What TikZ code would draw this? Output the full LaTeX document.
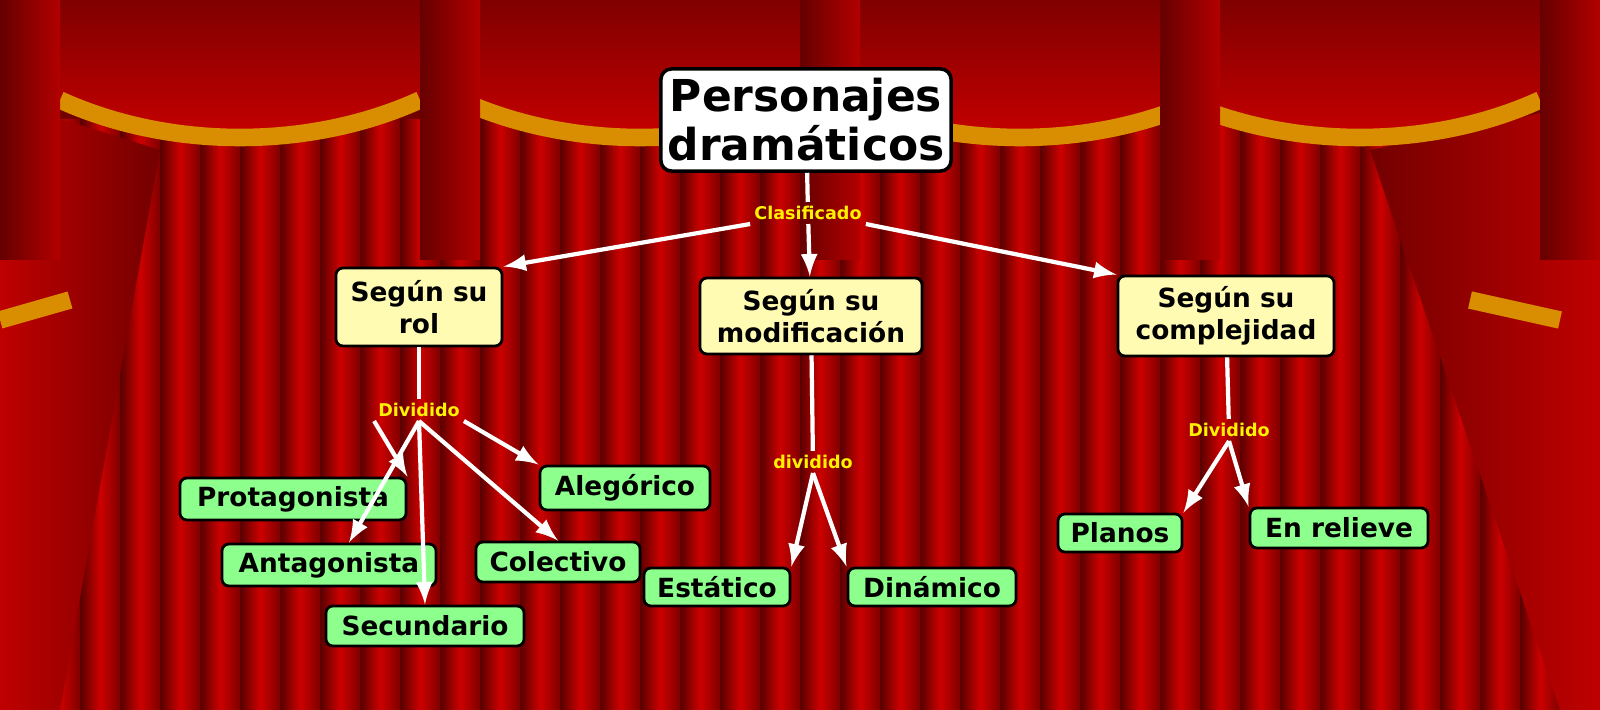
\documentclass[tikz,border=0pt]{standalone}
\usepackage{fontspec}
\setmainfont{DejaVu Sans}
\begin{document}
\begin{tikzpicture}[x=0.01cm,y=-0.01cm,
  ybox/.style={draw=black,line width=0.8pt,rounded corners=2pt,fill=yellow!30!white,align=center,font=\bfseries\fontsize{7.5}{9}\selectfont,inner sep=1pt},
  gbox/.style={draw=black,line width=0.8pt,rounded corners=2pt,fill=green!45!white,font=\bfseries\fontsize{7.5}{9}\selectfont,inner sep=1pt},
  lbl/.style={text=yellow,font=\bfseries\fontsize{5}{6}\selectfont,inner sep=1pt},
  arr/.style={draw=white,line width=1.2pt,-latex}]
\useasboundingbox (0,0) rectangle (1600,710);
% background curtain
\fill[red!45!black] (0,0) rectangle (1600,710);
\foreach \x in {0,40,...,1580}{
  \shade[left color=red!35!black,right color=red!50!black,middle color=red!80!black] (\x,120) rectangle (\x+40,710);
}
% side drapes
\shade[left color=red!75!black,right color=red!45!black] (0,100) -- (160,150) -- (60,710) -- (0,710) -- cycle;
\shade[left color=red!45!black,right color=red!75!black] (1600,100) -- (1370,150) -- (1560,710) -- (1600,710) -- cycle;
% valance swags
\foreach \x in {60,460,840,1180}{
  \shade[top color=red!50!black,bottom color=red!80!black] (\x,0) -- (\x+360,0) -- (\x+360,100) .. controls (\x+250,150) and (\x+110,150) .. (\x,100) -- cycle;
  \draw[orange!70!yellow!85!black,line width=5pt] (\x,100) .. controls (\x+110,150) and (\x+250,150) .. (\x+360,100);
}
\foreach \x in {0,420,800,1160,1540}{
  \shade[left color=red!40!black,right color=red!70!black] (\x,0) rectangle (\x+60,260);
}
\draw[orange!70!yellow!85!black,line width=5pt] (0,320) -- (70,300);
\draw[orange!70!yellow!85!black,line width=5pt] (1470,300) -- (1560,320);
% nodes
\node[draw=black,line width=1pt,rounded corners=3pt,fill=white,align=center,font=\bfseries\fontsize{12.5}{14}\selectfont,inner sep=1pt,minimum width=2.9cm,minimum height=1.02cm] (P) at (806,120) {Personajes\\dramáticos};
\node[lbl] (C) at (808,213) {Clasificado};
\node[ybox,minimum width=1.66cm,minimum height=0.78cm] (R) at (419,307) {Según su\\rol};
\node[ybox,minimum width=2.22cm,minimum height=0.76cm] (M) at (811,316) {Según su\\modificación};
\node[ybox,minimum width=2.16cm,minimum height=0.8cm] (X) at (1226,316) {Según su\\complejidad};
\node[lbl] (D1) at (419,410) {Dividido};
\node[lbl] (D2) at (813,462) {dividido};
\node[lbl] (D3) at (1229,430) {Dividido};
\node[gbox,minimum width=2.26cm,minimum height=0.42cm] (a) at (293,499) {Protagonista};
\node[gbox,minimum width=2.14cm,minimum height=0.42cm] (b) at (329,565) {Antagonista};
\node[gbox,minimum width=1.98cm,minimum height=0.4cm] (c) at (425,626) {Secundario};
\node[gbox,minimum width=1.64cm,minimum height=0.4cm] (d) at (558,562) {Colectivo};
\node[gbox,minimum width=1.7cm,minimum height=0.44cm] (e) at (625,488) {Alegórico};
\node[gbox,minimum width=1.46cm,minimum height=0.38cm] (f) at (717,587) {Estático};
\node[gbox,minimum width=1.68cm,minimum height=0.38cm] (g) at (932,587) {Dinámico};
\node[gbox,minimum width=1.24cm,minimum height=0.38cm] (h) at (1120,533) {Planos};
\node[gbox,minimum width=1.78cm,minimum height=0.4cm] (i) at (1339,528) {En relieve};
% connectors
\draw[white,line width=1.2pt] (P) -- (C);
\draw[arr] (C.south west) -- (R.north east);
\draw[arr] (C) -- (M);
\draw[arr] (C.south east) -- (X.north west);
\draw[white,line width=1.2pt] (R) -- (D1);
\draw[white,line width=1.2pt] (M) -- (D2);
\draw[white,line width=1.2pt] (X) -- (D3);
\draw[arr] (D1.south west) -- (a.north east);
\draw[arr] (D1.south) -- ([xshift=0.2cm]b.north);
\draw[arr] (D1.south) -- (c.north);
\draw[arr] (D1.south) -- (d.north);
\draw[arr] (D1.south east) -- (e.north west);
\draw[arr] (D2.south) -- (f.north east);
\draw[arr] (D2.south) -- (g.north west);
\draw[arr] (D3.south) -- (h.north east);
\draw[arr] (D3.south) -- (i.north west);
\end{tikzpicture}
\end{document}
